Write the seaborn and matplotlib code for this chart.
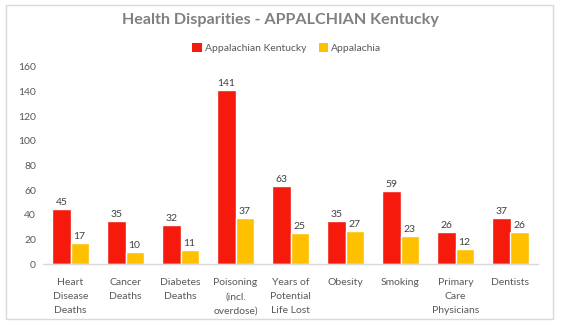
import matplotlib
matplotlib.use("Agg")
import matplotlib.pyplot as plt
import seaborn as sns
import pandas as pd
from matplotlib.patches import Rectangle, Patch

categories = ["Heart\nDisease\nDeaths", "Cancer\nDeaths", "Diabetes\nDeaths",
              "Poisoning\n(incl.\noverdose)", "Years of\nPotential\nLife Lost",
              "Obesity", "Smoking", "Primary\nCare\nPhysicians", "Dentists"]
kentucky = [45, 35, 32, 141, 63, 35, 59, 26, 37]
appalachia = [17, 10, 11, 37, 25, 27, 23, 12, 26]
series = ["Appalachian Kentucky", "Appalachia"]
yticks = [0, 20, 40, 60, 80, 100, 120, 140, 160]

df = pd.DataFrame({
    "category": categories * 2,
    "value": kentucky + appalachia,
    "series": [series[0]] * len(categories) + [series[1]] * len(categories),
})

sns.set_theme(style="white")
plt.rcParams["font.family"] = ["Lato", "DejaVu Sans"]

W, H = 566, 329
fig = plt.figure(figsize=(W / 100, H / 100), dpi=100)
ax = fig.add_axes([43 / W, (H - 264) / H, (538 - 43) / W, (264 - 67) / H])

palette = {series[0]: "#F51A0C", series[1]: "#FFC000"}
sns.barplot(data=df, x="category", y="value", hue="series", palette=palette,
            width=0.66, gap=0, ax=ax, legend=False, saturation=1)

for cont in ax.containers:
    ax.bar_label(cont, padding=1.5, fontsize=7.5, color="#404040")

ax.set_ylim(0, 160)
ax.set_yticks(yticks)
ax.set_xlabel("")
ax.set_ylabel("")
ax.tick_params(axis="y", length=0, pad=5, labelsize=7.5, labelcolor="#595959")
ax.tick_params(axis="x", length=0, pad=10, labelsize=7.5, labelcolor="#595959")
for lbl in ax.get_xticklabels():
    lbl.set_linespacing(1.75)
for s in ["top", "right", "left"]:
    ax.spines[s].set_visible(False)
ax.spines["bottom"].set_color("#D9D9D9")
ax.spines["bottom"].set_linewidth(1.0)

# chart border
fig.patches.append(Rectangle((6 / W, 1 - 319 / H), (553 - 6) / W, (319 - 5) / H,
                             transform=fig.transFigure, fill=False,
                             edgecolor="#D9D9D9", linewidth=1.0))

fig.text(280 / W, 1 - 20 / H, "Health Disparities - APPALCHIAN Kentucky",
         ha="center", va="center", fontsize=11.6, fontweight="bold", color="#808080")

# legend
handles = [Patch(facecolor=palette[s], edgecolor="none") for s in series]
fig.legend(handles, series, loc="center", bbox_to_anchor=(287 / W, 1 - 48 / H),
           ncol=2, frameon=False, fontsize=7.5, handlelength=0.9, handleheight=0.9,
           handletextpad=0.3, columnspacing=1.2, labelcolor="#595959")

fig.savefig("out.png", dpi=100)
